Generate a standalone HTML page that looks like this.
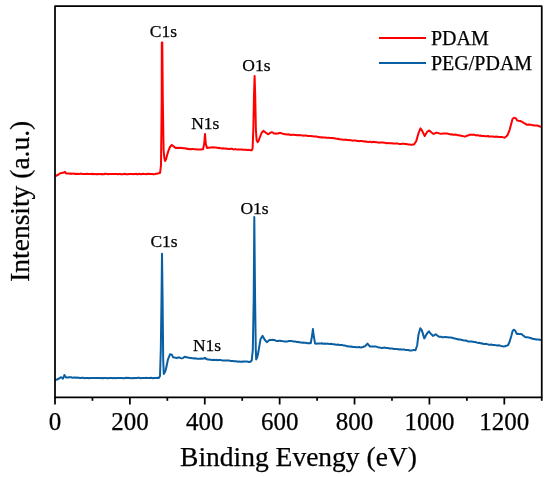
<!DOCTYPE html>
<html><head><meta charset="utf-8"><style>
html,body{margin:0;padding:0;background:#fff;}
svg{display:block;}
text{font-family:"Liberation Serif","Times New Roman",serif;fill:#000;stroke:#000;stroke-width:0.25px;}
</style></head><body>
<svg width="550" height="477" viewBox="0 0 550 477">
<rect width="550" height="477" fill="#fff"/>
<g fill="none" stroke-linejoin="round" stroke-linecap="round" stroke-width="2">
<path stroke="#ff0000" d="M56.0 175.9 L57.0 175.2 L58.0 174.8 L59.2 174.0 L60.5 173.2 L61.8 172.9 L63.0 172.8 L64.9 171.8 L66.0 173.3 L67.0 173.5 L68.0 173.6 L69.0 173.4 L70.0 173.7 L71.0 173.5 L72.0 173.9 L73.0 173.6 L74.0 173.6 L75.0 174.0 L76.0 173.7 L77.0 173.9 L78.0 173.8 L79.0 173.9 L80.0 173.8 L81.0 173.6 L82.0 173.9 L83.0 174.0 L84.0 173.9 L85.0 174.0 L86.0 174.0 L87.0 173.7 L88.0 174.1 L89.0 174.0 L90.0 174.0 L91.0 173.9 L92.0 173.8 L93.0 174.2 L94.0 174.0 L95.0 174.1 L96.0 174.2 L97.0 174.1 L98.0 174.2 L99.0 173.9 L100.0 174.0 L101.0 174.2 L102.0 174.0 L103.0 174.2 L104.0 174.2 L105.0 173.8 L106.0 173.8 L107.0 173.9 L108.0 174.2 L109.0 174.0 L110.0 174.0 L111.0 174.1 L112.0 173.9 L113.0 174.0 L114.0 173.9 L115.0 173.9 L116.0 174.0 L117.0 174.0 L118.0 174.2 L119.0 174.1 L120.0 174.0 L121.0 174.2 L122.0 174.2 L123.0 174.2 L124.0 174.1 L125.0 173.8 L126.0 174.2 L127.0 174.2 L128.0 174.2 L129.0 174.0 L130.0 174.0 L131.0 174.1 L132.0 173.9 L133.0 174.2 L134.0 174.0 L135.0 173.9 L136.0 173.8 L137.0 174.2 L138.0 174.2 L139.0 173.8 L140.0 174.0 L141.0 174.2 L142.0 174.0 L143.0 173.8 L144.0 173.9 L145.0 174.1 L146.0 174.2 L147.0 173.8 L148.0 174.1 L149.0 173.8 L150.0 174.0 L151.0 174.1 L152.0 173.9 L153.0 174.2 L154.0 174.2 L155.0 174.0 L156.2 173.7 L157.3 173.7 L158.5 173.2 L160.1 172.9 L161.0 165.0 L161.7 100.0 L161.8 42.5 L162.3 42.5 L162.8 100.0 L163.6 150.0 L164.3 158.0 L165.1 161.0 L166.0 159.5 L167.0 155.5 L168.4 150.9 L170.0 147.0 L171.8 144.9 L173.5 146.3 L174.5 147.1 L175.5 148.0 L176.6 147.8 L177.8 148.0 L178.9 147.7 L180.0 147.9 L181.0 147.8 L182.0 148.1 L183.0 148.3 L184.0 148.1 L185.0 148.4 L186.0 148.3 L187.0 148.9 L188.0 148.7 L189.0 149.2 L190.0 149.1 L191.0 149.3 L192.0 149.1 L193.0 149.1 L194.0 149.2 L195.0 149.2 L196.0 149.3 L197.0 149.4 L198.0 149.4 L199.0 149.5 L200.0 149.5 L201.0 149.6 L202.0 149.3 L203.0 149.2 L204.2 144.0 L205.0 134.1 L205.8 144.0 L207.0 147.9 L208.0 147.8 L209.0 147.8 L210.0 147.5 L211.0 147.4 L212.0 147.6 L213.0 147.3 L214.0 147.4 L215.0 147.6 L216.0 147.4 L217.0 147.8 L218.0 148.0 L219.0 147.8 L220.0 148.2 L221.0 148.3 L222.0 148.4 L223.0 148.2 L224.0 148.5 L225.0 148.5 L226.0 148.7 L227.0 148.6 L228.0 148.9 L229.0 148.9 L230.0 148.9 L231.0 148.7 L232.0 148.8 L233.0 149.2 L234.0 149.4 L235.0 149.1 L236.0 149.3 L237.0 149.4 L238.0 149.4 L239.0 149.5 L240.0 149.6 L241.0 149.5 L242.0 149.6 L243.0 149.8 L244.0 149.7 L245.0 149.8 L246.1 149.8 L247.2 150.1 L248.3 149.8 L249.5 150.1 L250.6 150.3 L251.7 150.2 L252.6 148.4 L253.3 130.0 L254.0 95.0 L254.6 76.0 L255.2 95.0 L255.9 130.0 L256.6 140.0 L257.6 142.2 L258.5 141.0 L260.0 137.0 L261.5 133.0 L263.4 130.9 L264.4 131.6 L265.5 132.5 L266.8 133.3 L268.0 134.3 L269.0 133.8 L270.0 133.0 L271.8 132.2 L272.9 132.7 L274.0 133.5 L275.0 133.5 L276.0 133.8 L277.1 133.6 L278.1 133.5 L279.1 133.0 L280.2 133.0 L281.4 133.2 L282.6 133.6 L283.8 134.1 L285.0 134.3 L286.0 134.3 L287.0 134.6 L288.0 134.3 L289.0 134.5 L290.0 134.7 L291.0 134.9 L292.0 134.7 L293.0 134.7 L294.0 134.7 L295.0 135.0 L296.0 134.9 L297.0 135.3 L298.0 135.3 L299.0 135.1 L300.0 135.3 L301.0 135.3 L302.0 135.6 L303.0 135.6 L304.0 135.8 L305.0 135.6 L306.0 135.6 L307.0 135.8 L308.0 136.1 L309.0 135.9 L310.0 136.0 L311.0 136.1 L312.0 136.2 L313.0 136.3 L314.0 136.6 L315.0 136.5 L316.0 136.4 L317.0 136.5 L318.0 137.1 L319.0 137.2 L320.0 137.1 L321.0 137.4 L322.0 137.2 L323.0 137.6 L324.0 137.6 L325.0 137.4 L326.0 137.7 L327.0 137.8 L328.0 137.8 L329.0 137.8 L330.0 137.9 L331.0 137.9 L332.0 138.1 L333.0 138.1 L334.0 138.2 L335.0 138.6 L336.0 138.6 L337.0 138.9 L338.0 138.7 L339.0 139.2 L340.0 139.3 L341.0 139.5 L342.0 139.6 L343.0 139.7 L344.0 139.7 L345.0 139.8 L346.0 139.6 L347.0 140.1 L348.0 139.9 L349.0 140.0 L350.0 140.3 L351.0 140.3 L352.0 140.4 L353.0 140.7 L354.0 140.6 L355.0 140.6 L356.0 140.6 L357.0 141.0 L358.0 140.9 L359.0 141.2 L360.0 141.1 L361.0 141.1 L362.0 141.1 L363.0 141.3 L364.0 141.6 L365.0 141.3 L366.0 141.7 L367.0 141.8 L368.0 141.9 L369.0 141.9 L370.0 141.6 L371.0 142.0 L372.0 142.2 L373.0 141.8 L374.0 142.0 L375.0 142.1 L376.0 142.3 L377.0 142.3 L378.0 142.4 L379.0 142.7 L380.0 142.6 L381.0 142.4 L382.0 142.5 L383.0 142.6 L384.0 142.7 L385.0 142.7 L386.0 143.2 L387.0 143.2 L388.0 142.9 L389.0 143.2 L390.0 143.2 L391.0 143.2 L392.0 143.3 L393.0 143.5 L394.0 143.6 L395.0 143.5 L396.0 143.5 L397.0 143.6 L398.0 143.6 L399.0 143.9 L400.0 143.9 L401.0 144.0 L402.0 143.8 L403.0 143.7 L404.0 143.7 L405.0 143.9 L406.2 144.0 L407.4 144.3 L408.5 144.6 L409.7 144.6 L410.9 144.8 L412.0 144.8 L413.1 144.5 L414.2 144.3 L416.3 141.0 L418.4 133.4 L420.5 128.4 L422.2 130.9 L424.7 136.0 L427.2 131.8 L428.2 131.1 L429.3 130.5 L430.4 131.4 L431.5 132.5 L432.5 133.2 L433.5 133.9 L434.9 133.4 L436.4 132.6 L437.6 132.9 L438.8 133.3 L439.9 133.6 L441.1 133.9 L442.4 133.6 L443.7 133.6 L445.0 133.4 L446.0 133.6 L447.0 133.5 L448.0 133.8 L449.0 133.9 L450.0 134.3 L451.0 134.4 L452.0 134.3 L453.0 134.7 L454.0 134.7 L455.0 134.6 L456.0 134.8 L457.0 134.8 L458.0 135.3 L459.0 135.3 L460.0 135.4 L461.0 135.8 L462.0 136.0 L463.0 136.1 L464.0 136.4 L465.0 136.5 L466.0 136.2 L467.0 135.7 L468.0 135.6 L469.0 135.0 L470.0 134.7 L471.0 134.6 L472.0 134.9 L473.0 134.6 L474.0 134.8 L475.0 134.9 L476.0 135.4 L477.0 135.2 L478.0 135.2 L479.0 135.7 L480.0 135.7 L481.0 135.6 L482.0 136.0 L483.0 136.0 L484.0 136.1 L485.0 136.3 L486.0 136.2 L487.0 136.3 L488.0 136.0 L489.0 136.5 L490.0 136.4 L491.0 136.5 L492.0 136.6 L493.0 136.4 L494.0 136.7 L495.0 136.9 L496.0 136.5 L497.0 136.7 L498.0 136.8 L499.0 137.0 L500.0 136.9 L501.1 137.0 L502.3 137.1 L503.5 137.4 L504.6 137.7 L506.1 136.5 L507.5 135.2 L509.6 130.1 L511.3 123.4 L512.6 118.8 L514.2 117.7 L515.9 118.4 L517.2 120.5 L518.7 120.8 L520.1 120.9 L521.4 121.5 L522.6 122.2 L523.6 122.8 L524.7 123.4 L525.8 124.0 L526.8 124.7 L527.8 124.7 L528.9 124.5 L530.0 124.7 L531.0 124.7 L532.1 125.2 L533.3 125.2 L534.4 125.5 L535.6 125.6 L536.9 125.5 L538.0 125.7 L539.1 126.3 L540.2 126.6 L541.0 126.7"/>
<path stroke="#095fa2" d="M56.0 379.7 L57.0 379.5 L58.0 379.0 L59.0 378.5 L60.0 377.8 L61.0 377.2 L62.0 377.9 L63.0 378.6 L64.4 375.0 L66.0 377.5 L67.0 377.5 L68.0 377.6 L69.0 377.2 L70.0 377.3 L71.0 377.2 L72.0 377.5 L73.0 377.7 L74.0 377.5 L75.0 377.6 L76.0 377.8 L77.0 377.6 L78.0 377.7 L79.0 377.7 L80.0 377.9 L81.0 378.0 L82.0 377.8 L83.0 377.8 L84.0 378.1 L85.0 378.2 L86.0 377.9 L87.0 378.1 L88.0 378.0 L89.0 378.3 L90.0 378.1 L91.0 378.1 L92.0 378.0 L93.0 378.0 L94.0 377.9 L95.0 378.1 L96.0 378.0 L97.0 377.9 L98.0 378.0 L99.0 378.0 L100.0 378.1 L101.0 378.2 L102.0 377.9 L103.0 378.3 L104.0 378.0 L105.0 378.1 L106.0 378.0 L107.0 378.2 L108.0 378.2 L109.0 378.0 L110.0 378.0 L111.0 378.0 L112.0 378.1 L113.0 378.2 L114.0 378.0 L115.0 378.1 L116.0 378.2 L117.0 378.0 L118.0 377.9 L119.0 377.9 L120.0 378.0 L121.0 378.1 L122.0 378.1 L123.0 378.2 L124.0 378.2 L125.0 377.9 L126.0 377.8 L127.0 377.9 L128.0 377.8 L129.0 378.1 L130.0 378.0 L131.0 378.2 L132.0 378.2 L133.0 377.9 L134.0 378.2 L135.0 377.9 L136.0 378.0 L137.0 378.1 L138.0 377.8 L139.0 377.8 L140.0 378.0 L141.0 378.2 L142.0 377.9 L143.0 377.9 L144.0 378.0 L145.0 378.1 L146.0 377.8 L147.0 377.9 L148.0 378.0 L149.0 378.0 L150.0 378.0 L151.0 377.8 L152.0 378.0 L153.0 378.2 L154.0 377.9 L155.0 377.9 L156.3 378.0 L157.5 377.8 L158.8 378.1 L160.0 376.0 L160.8 350.0 L161.5 300.0 L162.0 253.8 L162.6 300.0 L163.2 360.0 L163.8 373.9 L165.0 372.0 L165.9 369.3 L168.0 359.3 L170.1 354.2 L171.8 354.6 L173.0 357.2 L174.3 357.4 L175.5 357.8 L176.8 358.0 L178.1 357.5 L179.3 357.4 L180.6 358.1 L181.8 358.4 L182.9 358.1 L183.9 357.1 L185.0 356.8 L186.0 357.2 L187.0 357.2 L188.0 357.6 L189.0 357.8 L190.0 357.9 L191.0 357.9 L192.0 358.2 L193.0 358.2 L194.0 358.4 L195.0 358.2 L196.0 358.6 L197.0 358.8 L198.0 358.7 L199.0 358.7 L200.0 358.8 L201.0 358.6 L202.0 358.7 L203.0 358.6 L204.0 358.6 L205.0 357.8 L206.0 358.8 L207.0 359.2 L208.0 359.4 L209.0 359.6 L210.0 359.8 L211.0 359.7 L212.0 359.9 L213.0 360.0 L214.0 359.8 L215.0 360.1 L216.0 360.1 L217.0 359.8 L218.0 360.3 L219.0 359.9 L220.0 360.1 L221.0 360.1 L222.0 360.4 L223.0 360.4 L224.0 360.4 L225.0 360.5 L226.0 360.5 L227.0 360.5 L228.0 360.5 L229.0 360.5 L230.0 360.8 L231.0 361.0 L232.0 361.1 L233.0 361.1 L234.0 361.3 L235.0 361.2 L236.0 361.2 L237.0 361.4 L238.0 361.7 L239.0 361.4 L240.0 361.7 L241.0 361.7 L242.0 361.5 L243.0 361.7 L244.0 361.5 L245.0 361.5 L246.0 361.5 L247.0 361.6 L248.0 361.8 L249.0 362.0 L250.0 361.9 L251.7 360.6 L252.8 350.0 L253.7 300.0 L254.3 217.0 L255.1 300.0 L255.8 350.0 L256.2 359.4 L257.3 357.0 L258.4 351.8 L260.5 339.3 L262.6 335.9 L264.7 339.7 L265.8 340.9 L266.8 342.2 L268.1 341.3 L269.3 340.1 L270.4 339.9 L271.4 339.9 L272.4 339.7 L273.5 339.9 L274.6 340.0 L275.8 340.7 L276.9 340.9 L277.9 341.0 L279.0 340.7 L280.1 340.7 L281.1 340.9 L282.4 341.1 L283.7 341.4 L285.0 341.5 L286.0 341.6 L287.0 341.4 L288.0 341.2 L289.0 340.9 L290.0 341.0 L291.0 341.1 L292.0 341.1 L293.0 341.4 L294.0 341.6 L295.0 341.5 L296.0 341.7 L297.0 342.1 L298.0 341.8 L299.0 342.3 L300.0 342.3 L301.1 342.6 L302.1 342.7 L303.2 342.5 L304.3 342.7 L305.4 342.8 L306.4 343.0 L307.5 343.2 L308.6 343.2 L309.6 343.1 L310.7 343.3 L312.2 335.0 L312.9 329.0 L313.6 335.0 L315.1 343.6 L316.3 343.7 L317.6 343.5 L318.8 343.5 L320.0 343.4 L321.0 343.6 L322.0 343.3 L323.0 343.7 L324.0 343.7 L325.0 343.6 L326.0 343.7 L327.0 343.7 L328.0 343.6 L329.0 343.9 L330.0 343.9 L331.0 343.8 L332.0 344.1 L333.0 344.3 L334.0 344.3 L335.0 344.4 L336.0 344.7 L337.0 344.8 L338.0 344.5 L339.0 344.9 L340.0 344.9 L341.0 345.1 L342.0 345.0 L343.0 345.3 L344.0 345.4 L345.0 345.5 L346.0 345.9 L347.0 346.3 L348.0 346.2 L349.0 346.6 L350.0 346.6 L351.0 346.8 L352.0 346.6 L353.0 347.0 L354.0 347.0 L355.0 347.0 L356.0 347.2 L357.0 347.2 L358.0 347.2 L359.0 347.0 L360.0 347.3 L361.0 347.4 L362.0 347.2 L363.0 347.0 L364.0 346.5 L365.0 346.2 L366.2 345.0 L367.5 343.6 L368.8 345.1 L370.0 346.6 L371.0 346.4 L372.0 346.4 L373.0 346.4 L374.0 346.5 L375.0 346.4 L376.0 346.6 L377.0 346.9 L378.0 347.2 L379.0 347.4 L380.0 347.6 L381.0 347.9 L382.0 347.9 L383.0 347.7 L384.0 347.7 L385.0 347.6 L386.0 347.9 L387.0 347.9 L388.0 347.9 L389.0 348.4 L390.0 348.5 L391.0 348.4 L392.0 348.6 L393.0 348.8 L394.0 349.0 L395.0 349.1 L396.0 349.0 L397.0 349.0 L398.0 349.2 L399.0 349.5 L400.0 349.3 L401.0 349.5 L402.0 349.4 L403.0 349.5 L404.0 349.6 L405.0 349.8 L406.0 349.9 L407.0 350.0 L408.0 350.0 L409.0 350.2 L410.0 350.6 L411.1 350.4 L412.2 350.4 L413.3 350.1 L414.4 350.0 L415.5 350.2 L417.2 345.2 L418.4 335.1 L420.3 328.3 L421.8 330.1 L424.3 338.4 L426.8 333.8 L427.9 332.5 L428.9 331.3 L430.1 332.8 L431.4 334.3 L433.1 335.9 L434.4 335.2 L435.6 334.3 L436.7 334.9 L437.9 335.9 L439.0 336.8 L440.1 336.8 L441.3 336.8 L442.5 337.3 L443.6 337.2 L444.7 337.1 L445.7 337.1 L446.8 337.3 L447.9 337.2 L448.9 337.5 L450.0 337.5 L451.0 337.6 L452.0 337.7 L453.0 337.9 L454.0 338.5 L455.0 338.4 L456.0 338.9 L457.0 339.0 L458.0 339.4 L459.0 339.3 L460.0 339.6 L461.0 339.7 L462.0 339.9 L463.0 340.3 L464.0 340.4 L465.0 340.5 L466.0 340.5 L467.0 341.0 L468.0 341.4 L469.0 341.4 L470.0 341.5 L471.0 341.4 L472.0 341.6 L473.0 341.7 L474.0 341.9 L475.0 342.0 L476.0 342.2 L477.0 342.6 L478.0 342.9 L479.0 342.7 L480.0 343.0 L481.0 343.4 L482.0 343.3 L483.0 343.7 L484.0 343.9 L485.0 344.1 L486.0 343.8 L487.0 344.1 L488.0 344.4 L489.0 344.8 L490.0 344.7 L491.0 344.6 L492.0 344.8 L493.0 345.1 L494.0 344.9 L495.0 345.1 L496.0 345.2 L497.0 345.4 L498.0 345.6 L499.0 345.3 L500.0 345.6 L501.3 346.0 L502.5 346.3 L503.8 346.4 L504.9 346.3 L505.9 345.8 L506.9 345.7 L508.0 345.2 L509.6 341.8 L511.3 336.0 L512.6 330.9 L513.8 329.7 L515.1 330.5 L516.8 333.9 L517.8 333.8 L518.9 333.9 L520.1 333.9 L521.4 333.9 L523.1 335.5 L524.1 336.1 L525.1 337.0 L526.2 337.3 L527.4 337.3 L528.5 337.5 L529.6 337.7 L530.8 338.0 L531.9 338.5 L533.0 338.9 L534.1 339.1 L535.2 339.3 L536.3 339.5 L537.5 339.4 L538.6 339.5 L539.8 339.7 L541.0 340.0"/>
</g>
<g stroke="#000" stroke-width="1.75" fill="none" stroke-linejoin="round">
<rect x="55" y="6" width="486.75" height="391.25"/>
<line x1="55.00" y1="397" x2="55.00" y2="404.5"/><line x1="92.44" y1="397" x2="92.44" y2="400.8"/><line x1="129.88" y1="397" x2="129.88" y2="404.5"/><line x1="167.33" y1="397" x2="167.33" y2="400.8"/><line x1="204.77" y1="397" x2="204.77" y2="404.5"/><line x1="242.21" y1="397" x2="242.21" y2="400.8"/><line x1="279.65" y1="397" x2="279.65" y2="404.5"/><line x1="317.10" y1="397" x2="317.10" y2="400.8"/><line x1="354.54" y1="397" x2="354.54" y2="404.5"/><line x1="391.98" y1="397" x2="391.98" y2="400.8"/><line x1="429.42" y1="397" x2="429.42" y2="404.5"/><line x1="466.87" y1="397" x2="466.87" y2="400.8"/><line x1="504.31" y1="397" x2="504.31" y2="404.5"/><line x1="541.75" y1="397" x2="541.75" y2="400.8"/>
</g>
<g font-size="25" text-anchor="middle"><text x="55.00" y="430">0</text><text x="129.88" y="430">200</text><text x="204.77" y="430">400</text><text x="279.65" y="430">600</text><text x="354.54" y="430">800</text><text x="429.42" y="430">1000</text><text x="504.31" y="430">1200</text></g>
<text x="298.5" y="465.8" font-size="27.5" text-anchor="middle">Binding Evengy (eV)</text>
<text transform="translate(28.6,201.3) rotate(-90)" font-size="27.5" text-anchor="middle">Intensity (a.u.)</text>
<g font-size="17.5" text-anchor="middle">
<text x="163.4" y="37">C1s</text>
<text x="205.3" y="128.9">N1s</text>
<text x="256.4" y="70.9">O1s</text>
<text x="164" y="247.2">C1s</text>
<text x="207.1" y="351.2">N1s</text>
<text x="254.6" y="214.1">O1s</text>
</g>
<g stroke-width="2" fill="none">
<line x1="379" y1="38" x2="426" y2="38" stroke="#ff0000"/>
<line x1="379" y1="63" x2="426" y2="63" stroke="#095fa2"/>
</g>
<g font-size="20">
<text x="431" y="44.7">PDAM</text>
<text x="431" y="70">PEG/PDAM</text>
</g>
</svg>
</body></html>
